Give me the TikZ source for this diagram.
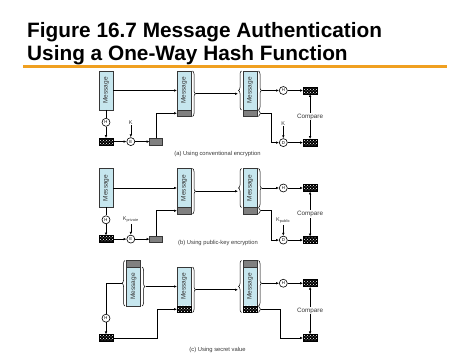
\documentclass[tikz,border=0pt]{standalone}
\usepackage{fontspec}
\setmainfont{Liberation Sans}
\usepackage{graphicx}
\usetikzlibrary{arrows.meta,positioning,calc,patterns,decorations.pathreplacing}
\definecolor{macCyan}{RGB}{198,230,238}
\definecolor{macGray}{RGB}{128,128,128}
\definecolor{macOrange}{RGB}{240,160,32}
\definecolor{macInk}{RGB}{55,55,55}

\begin{document}
\begin{tikzpicture}[
  x=1pt,y=-1pt,
  msgpart/.style={
    draw=macInk,
    fill=macCyan,
    line width=0.6pt,
    minimum width=14pt,
    minimum height=39pt,
    inner sep=0pt,
    outer sep=0pt,
    text=macInk,
    font=\fontsize{6.5}{7}\selectfont
  },
  graytag/.style={draw=macInk,fill=macGray,line width=0.6pt,minimum width=14pt,minimum height=6.5pt,inner sep=0pt,outer sep=0pt},
  hashbox/.style={draw=black,line width=0.6pt,preaction={fill=black},pattern=crosshatch dots,pattern color=white,
    minimum width=14pt,minimum height=7pt,inner sep=0pt,outer sep=0pt},
  opcircle/.style={circle,draw,fill=white,line width=0.6pt,minimum size=8pt,inner sep=0pt,font=\fontsize{4.3}{4.3}\selectfont},
  keylabel/.style={inner sep=1pt,text=macInk,font=\fontsize{5.5}{6}\selectfont},
  caption/.style={inner sep=0pt,text=macInk,font=\fontsize{5.8}{6}\selectfont},
  cmplabel/.style={fill=white,inner sep=1pt,text=macInk,font=\fontsize{6.3}{7}\selectfont},
  titleline/.style={anchor=base west,inner sep=0pt,font=\fontsize{20.8}{24}\selectfont\bfseries},
  brace/.style={decorate,decoration={brace,amplitude=3pt},line width=0.5pt},
  smallbrace/.style={decorate,decoration={brace,amplitude=2pt},line width=0.5pt},
  wire/.style={line width=0.6pt},
  arrow/.style={-{Latex[length=3pt,width=2.6pt]},line width=0.6pt},
  dblarrow/.style={{Latex[length=3pt,width=2.6pt]}-{Latex[length=3pt,width=2.6pt]},line width=0.6pt}
]
  \useasboundingbox (0,0) rectangle (474,355);

  % title
  \node[titleline] (title1) at (27,37.5) {Figure 16.7 Message Authentication};
  \node[titleline] (title2) at ([yshift=-22.7pt]title1.base west) {Using a One-Way Hash Function};
  \draw[macOrange,line width=3.2pt] (23,66.5) -- (447,66.5);

  % (a) conventional encryption
  \begin{scope}
    \node[msgpart] (a-msg1) at (106,90.5) {\rotatebox{90}{Message}};
    \node[msgpart] (a-msg2) at (184,90.5) {\rotatebox{90}{Message}};
    \node[graytag,below=0pt of a-msg2] (a-tag2) {};
    \node[msgpart] (a-msg3) at (250,90.5) {\rotatebox{90}{Message}};
    \node[graytag,below=0pt of a-msg3] (a-tag3) {};
    \node[opcircle,below=8pt of a-msg1] (a-H1) {H};
    \node[hashbox,below=11.5pt of a-H1] (a-hash1) {};
    \node[opcircle,right=13.5pt of a-hash1] (a-E) {E};
    \node[keylabel,above=12pt of a-E] (a-K1) {K};
    \node[graytag,minimum width=13pt,right=14.5pt of a-E] (a-enc) {};
    \coordinate (a-br2) at ($(a-msg2.north east)!0.5!(a-tag2.south east)+(5,0)$);
    \coordinate (a-br3l) at ($(a-msg3.north west)!0.5!(a-msg3.south west)+(-5,0)$);
    \coordinate (a-br3r) at ($(a-msg3.north east)!0.5!(a-msg3.south east)+(5,0)$);
    \coordinate (a-br3t) at ($(a-tag3.north east)!0.5!(a-tag3.south east)+(4,0)$);
    \node[opcircle,right=17pt of a-br3r] (a-H2) {H};
    \node[hashbox,right=15.5pt of a-H2] (a-hash2) {};
    \node[opcircle,below=43.5pt of a-H2] (a-D) {D};
    \node[hashbox,right=15.5pt of a-D] (a-hash3) {};
    \node[keylabel,above=12pt of a-D] (a-K2) {K};
    \node[caption] (a-cap) at (217.5,154) {(a) Using conventional encryption};

    \draw[brace] ([xshift=1.5pt]a-msg2.north east) -- ([xshift=1.5pt]a-tag2.south east);
    \draw[brace] ([xshift=-1.5pt]a-msg3.south west) -- ([xshift=-1.5pt]a-msg3.north west);
    \draw[brace] ([xshift=1.5pt]a-msg3.north east) -- ([xshift=1.5pt]a-msg3.south east);
    \draw[smallbrace] ([xshift=1.5pt]a-tag3.north east) -- ([xshift=1.5pt]a-tag3.south east);
    \draw[arrow] (a-msg1) -- (a-msg2);
    \draw[wire] (a-msg1) -- (a-H1);
    \draw[arrow] (a-H1) -- (a-hash1);
    \draw[arrow] (a-hash1) -- (a-E);
    \draw[arrow] (a-K1) -- (a-E);
    \draw[arrow] (a-E) -- (a-enc);
    \draw[arrow] (a-enc.north) |- (a-tag2.west);
    \draw[arrow] (a-br2) -- (a-br2 -| a-br3l);
    \draw[arrow] (a-br3r) -- (a-H2);
    \draw[arrow] (a-H2) -- (a-hash2);
    \draw[arrow] (a-br3t) -- ++(10,0) |- (a-D);
    \draw[arrow] (a-K2) -- (a-D);
    \draw[arrow] (a-D) -- (a-hash3);
    \draw[dblarrow] (a-hash2) -- node[cmplabel] {Compare} (a-hash3);
  \end{scope}

  % (b) public-key encryption
  \begin{scope}[shift={(0,97.5)}]
    \node[msgpart] (b-msg1) at (106,90.5) {\rotatebox{90}{Message}};
    \node[msgpart] (b-msg2) at (184,90.5) {\rotatebox{90}{Message}};
    \node[graytag,below=0pt of b-msg2] (b-tag2) {};
    \node[msgpart] (b-msg3) at (250,90.5) {\rotatebox{90}{Message}};
    \node[graytag,below=0pt of b-msg3] (b-tag3) {};
    \node[opcircle,below=8pt of b-msg1] (b-H1) {H};
    \node[hashbox,below=11.5pt of b-H1] (b-hash1) {};
    \node[opcircle,right=13.5pt of b-hash1] (b-E) {E};
    \node[keylabel,above=11pt of b-E] (b-K1) {K\textsubscript{private}};
    \node[graytag,minimum width=13pt,right=14.5pt of b-E] (b-enc) {};
    \coordinate (b-br2) at ($(b-msg2.north east)!0.5!(b-tag2.south east)+(5,0)$);
    \coordinate (b-br3l) at ($(b-msg3.north west)!0.5!(b-msg3.south west)+(-5,0)$);
    \coordinate (b-br3r) at ($(b-msg3.north east)!0.5!(b-msg3.south east)+(5,0)$);
    \coordinate (b-br3t) at ($(b-tag3.north east)!0.5!(b-tag3.south east)+(4,0)$);
    \node[opcircle,right=17pt of b-br3r] (b-H2) {H};
    \node[hashbox,right=15.5pt of b-H2] (b-hash2) {};
    \node[opcircle,below=43.5pt of b-H2] (b-D) {D};
    \node[hashbox,right=15.5pt of b-D] (b-hash3) {};
    \node[keylabel,above=11pt of b-D] (b-K2) {K\textsubscript{public}};
    \node[caption] (b-cap) at (218,146) {(b) Using public-key encryption};

    \draw[brace] ([xshift=1.5pt]b-msg2.north east) -- ([xshift=1.5pt]b-tag2.south east);
    \draw[brace] ([xshift=-1.5pt]b-msg3.south west) -- ([xshift=-1.5pt]b-msg3.north west);
    \draw[brace] ([xshift=1.5pt]b-msg3.north east) -- ([xshift=1.5pt]b-msg3.south east);
    \draw[smallbrace] ([xshift=1.5pt]b-tag3.north east) -- ([xshift=1.5pt]b-tag3.south east);
    \draw[arrow] (b-msg1) -- (b-msg2);
    \draw[wire] (b-msg1) -- (b-H1);
    \draw[arrow] (b-H1) -- (b-hash1);
    \draw[arrow] (b-hash1) -- (b-E);
    \draw[arrow] (b-K1) -- (b-E);
    \draw[arrow] (b-E) -- (b-enc);
    \draw[arrow] (b-enc.north) |- (b-tag2.west);
    \draw[arrow] (b-br2) -- (b-br2 -| b-br3l);
    \draw[arrow] (b-br3r) -- (b-H2);
    \draw[arrow] (b-H2) -- (b-hash2);
    \draw[arrow] (b-br3t) -- ++(10,0) |- (b-D);
    \draw[arrow] (b-K2) -- (b-D);
    \draw[arrow] (b-D) -- (b-hash3);
    \draw[dblarrow] (b-hash2) -- node[cmplabel] {Compare} (b-hash3);
  \end{scope}

  % (c) secret value
  \begin{scope}[shift={(0,196)}]
    \node[msgpart] (c-msg1) at (133.5,90.5) {\rotatebox{90}{Message}};
    \node[graytag,above=0pt of c-msg1] (c-top1) {};
    \node[msgpart] (c-msg2) at (184,90.5) {\rotatebox{90}{Message}};
    \node[hashbox,minimum height=6.5pt,below=0pt of c-msg2] (c-tag2) {};
    \node[msgpart] (c-msg3) at (250,90.5) {\rotatebox{90}{Message}};
    \node[graytag,above=0pt of c-msg3] (c-top3) {};
    \node[hashbox,minimum height=6.5pt,below=0pt of c-msg3] (c-tag3) {};
    \node[hashbox] (c-hash1) at (106,142) {};
    \node[opcircle,above=12pt of c-hash1] (c-H1) {H};
    \coordinate (c-br1l) at ($(c-top1.north west)!0.5!(c-msg1.south west)+(-5,0)$);
    \coordinate (c-br1r) at ($(c-msg1.north east)!0.5!(c-msg1.south east)+(5,0)$);
    \coordinate (c-br2) at ($(c-msg2.north east)!0.5!(c-tag2.south east)+(5,0)$);
    \coordinate (c-br3l) at ($(c-top3.north west)!0.5!(c-tag3.south west)+(-5,0)$);
    \coordinate (c-br3r) at ($(c-top3.north east)!0.5!(c-msg3.south east)+(5,0)$);
    \coordinate (c-br3t) at ($(c-tag3.north east)!0.5!(c-tag3.south east)+(4,0)$);
    \node[opcircle,right=17pt of c-br3r] (c-H2) {H};
    \node[hashbox,right=15.5pt of c-H2] (c-hash2) {};
    \node[hashbox,below=47.75pt of c-hash2] (c-hash3) {};
    \node[caption] (c-cap) at (217.5,154) {(c) Using secret value};

    \draw[brace] ([xshift=-1.5pt]c-msg1.south west) -- ([xshift=-1.5pt]c-top1.north west);
    \draw[brace] ([xshift=1.5pt]c-msg1.north east) -- ([xshift=1.5pt]c-msg1.south east);
    \draw[brace] ([xshift=1.5pt]c-msg2.north east) -- ([xshift=1.5pt]c-tag2.south east);
    \draw[brace] ([xshift=-1.5pt]c-tag3.south west) -- ([xshift=-1.5pt]c-top3.north west);
    \draw[brace] ([xshift=1.5pt]c-top3.north east) -- ([xshift=1.5pt]c-msg3.south east);
    \draw[smallbrace] ([xshift=1.5pt]c-tag3.north east) -- ([xshift=1.5pt]c-tag3.south east);
    \draw[wire] (c-br1l) -| (c-H1);
    \draw[arrow] (c-H1) -- (c-hash1);
    \draw[arrow] (c-hash1) -- ++(51,0) |- (c-tag2);
    \draw[arrow] (c-br1r) -- (c-br1r -| c-msg2.west);
    \draw[arrow] (c-br2) -- (c-br2 -| c-br3l);
    \draw[arrow] (c-br3r) -- (c-H2);
    \draw[arrow] (c-H2) -- (c-hash2);
    \draw[arrow] (c-br3t) -- ++(19,0) |- (c-hash3);
    \draw[dblarrow] (c-hash2) -- node[cmplabel] {Compare} (c-hash3);
  \end{scope}
\end{tikzpicture}
\end{document}
